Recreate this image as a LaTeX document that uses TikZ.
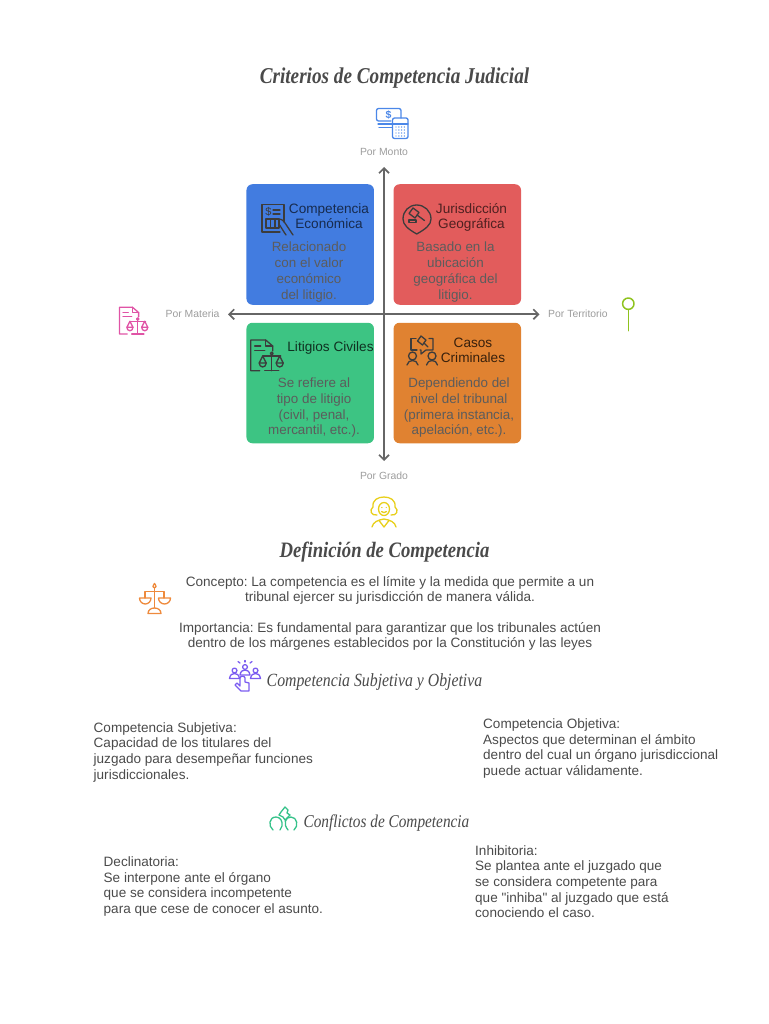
\documentclass[tikz,border=0pt]{standalone}
\usepackage{fontspec}
\setmainfont{Liberation Sans}
\newfontfamily\plainfont{Liberation Sans}
\newfontfamily\headfont[FakeStretch=0.85]{Liberation Serif}
\usetikzlibrary{arrows.meta}

\definecolor{cardblue}{HTML}{427CE0}
\definecolor{cardred}{HTML}{E25C5C}
\definecolor{cardgreen}{HTML}{3DC483}
\definecolor{cardorange}{HTML}{E08231}
\definecolor{axisgray}{HTML}{666666}
\definecolor{labelgray}{HTML}{9C9C9C}
\definecolor{textgray}{HTML}{4A4A4A}
\definecolor{bodygray}{HTML}{5C5C5C}
\definecolor{icondark}{HTML}{3C3C3C}
\definecolor{iconblue}{HTML}{4B87E8}
\definecolor{iconpink}{HTML}{E054A6}
\definecolor{iconlime}{HTML}{8FC31F}
\definecolor{iconyellow}{HTML}{E8CF1A}
\definecolor{iconorange}{HTML}{EE8A3C}
\definecolor{iconviolet}{HTML}{7B5CF0}
\definecolor{iconmint}{HTML}{36C28A}

\tikzset{
	cardbox/.style={draw=none, rounded corners=6pt, minimum width=127.5pt, minimum height=120.5pt, inner sep=0pt},
	cardtitle/.style={align=center, inner sep=0pt, font=\fontsize{13.6}{15}\selectfont},
	cardbody/.style={align=center, inner sep=0pt, text=bodygray, font=\fontsize{13.4}{15.7}\selectfont},
	axislabel/.style={inner sep=0pt, text=labelgray, font=\fontsize{10.4}{12}\selectfont},
	axisline/.style={axisgray, line width=1.7pt, {Straight Barb[length=5pt,width=10pt]}-{Straight Barb[length=5pt,width=10pt]}},
	headline/.style={inner sep=0pt, text=textgray, font=\headfont\itshape\fontsize{#1}{#1}\selectfont},
	bodytext/.style={inner sep=0pt, text=textgray, font=\fontsize{13.55}{15.7}\selectfont},
	iconline/.style={line width=1.3pt, line cap=round, line join=round},
	docscale/.pic={
		% Document with a fold
		\draw (9,30.7) -- (0,30.7) -- (0,0) -- (15,0) -- (22,6) -- (22,11);
		\draw (15,0) -- (15,6) -- (22,6);
		\draw (4,6) -- (10,6);
		\draw (4,10.5) -- (14,10.5);
		% Scale
		\draw (21,14.5) -- (21,30.7);
		\draw (14,30.7) -- (28,30.7);
		\draw (12,16) -- (30,16);
		\draw (21,13.5) circle (1.4);
		\draw (12,16) -- (8.5,23) -- (15.5,23) -- cycle;
		\draw (8.5,23) arc[start angle=180, end angle=0, x radius=3.5, y radius=4];
		\draw (29,16) -- (25.5,23) -- (32.5,23) -- cycle;
		\draw (25.5,23) arc[start angle=180, end angle=0, x radius=3.5, y radius=4];
	},
}

\begin{document}
\frenchspacing
\begin{tikzpicture}[x=1pt, y=-1pt]
	\useasboundingbox (0,0) rectangle (768,1024);

	% Main titles
	\node[headline=22.6] (maintitle) at (394.5,78.5) {\textbf{Criterios de Competencia Judicial}};
	\node[headline=22] (deftitle) at (384.5,552.5) {\textbf{Definición de Competencia}};
	\node[headline=18.6] (subtitle) at (374.5,682.5) {Competencia Subjetiva y Objetiva};
	\node[headline=18] (conftitle) at (386.5,823.5) {Conflictos de Competencia};

	% The four cards
	\node[cardbox, fill=cardblue] (ecocard) at (310.2,244.5) {};
	\node[cardbox, fill=cardred] (geocard) at (457.3,244.5) {};
	\node[cardbox, fill=cardgreen] (civcard) at (310.2,383) {};
	\node[cardbox, fill=cardorange] (crimcard) at (457.3,383) {};

	% Axes
	\coordinate (north) at (384,167);
	\coordinate (south) at (384,461);
	\coordinate (west) at (228,314.3);
	\coordinate (east) at (539.5,314.3);
	\draw[axisline] (north) -- (south);
	\draw[axisline] (west) -- (east);

	% Axis labels
	\node[axislabel] (monto) at (384,152) {Por Monto};
	\node[axislabel] (grado) at (384,476) {Por Grado};
	\node[axislabel] (materia) at (192.5,313.5) {Por Materia};
	\node[axislabel] (territorio) at (578,313.5) {Por Territorio};

	% Card texts
	\node[cardtitle, text=cardblue!35!black] (ecotitle) at (329,216) {Competencia\\Económica};
	\node[cardbody] (ecobody) at (309,272) {Relacionado\\con el valor\\económico\\del litigio.};
	\node[cardtitle, text=cardred!35!black] (geotitle) at (471.5,217) {Jurisdicción\\Geográfica};
	\node[cardbody] (geobody) at (455.5,272) {Basado en la\\ubicación\\geográfica del\\litigio.};
	\node[cardtitle, text=cardgreen!25!black] (civtitle) at (330.5,347.5) {Litigios Civiles};
	\node[cardbody] (civbody) at (314,407.7) {Se refiere al\\tipo de litigio\\(civil, penal,\\mercantil, etc.).};
	\node[cardtitle, text=cardorange!25!black] (crimtitle) at (473,350) {Casos\\Criminales};
	\node[cardbody] (crimbody) at (459,407.7) {Dependiendo del\\nivel del tribunal\\(primera instancia,\\apelación, etc.).};

	% Definition texts
	\node[bodytext, align=center] (concepto) at (390,590.5) {Concepto: La competencia es el límite y la medida que permite a un\\tribunal ejercer su jurisdicción de manera válida.};
	\node[bodytext, align=center] (importancia) at (390,636.5) {Importancia: Es fundamental para garantizar que los tribunales actúen\\dentro de los márgenes establecidos por la Constitución y las leyes};

	% Left aligned texts
	\node[bodytext, align=left, anchor=north west] (subjetiva) at (93.5,722) {Competencia Subjetiva:\\Capacidad de los titulares del\\juzgado para desempeñar funciones\\jurisdiccionales.};
	\node[bodytext, align=left, anchor=north west] (objetiva) at (483,718.5) {Competencia Objetiva:\\Aspectos que determinan el ámbito\\dentro del cual un órgano jurisdiccional\\puede actuar válidamente.};
	\node[bodytext, align=left, anchor=north west] (declinatoria) at (103.5,856.5) {Declinatoria:\\Se interpone ante el órgano\\que se considera incompetente\\para que cese de conocer el asunto.};
	\node[bodytext, align=left, anchor=north west] (inhibitoria) at (475,845) {Inhibitoria:\\Se plantea ante el juzgado que\\se considera competente para\\que {\plainfont"inhiba"} al juzgado que está\\conociendo el caso.};

	% Money and calculator icon
	\begin{scope}[iconline, draw=iconblue]
		\draw[rounded corners=2pt] (391,121) -- (376.5,121) -- (376.5,108.5) -- (401,108.5) -- (401,118);
		\draw (378,124) -- (392,124);
		\draw (379,127.5) -- (392,127.5);
		\node[inner sep=0pt, text=iconblue, font=\fontsize{10.5}{10.5}\selectfont\bfseries] (moneysign) at (388.5,114.5) {\$};
		\draw[rounded corners=2pt] (392.5,118) rectangle (408,138.5);
		\draw (392.5,124) -- (408,124);
		\foreach \dotx in {396,398.8,401.6,404.4}
			\foreach \doty in {127,130,133,136}
				\fill[iconblue] (\dotx,\doty) circle (0.7);
	\end{scope}

	% Pink document and scale icon
	\pic[iconline, draw=iconpink, scale=0.87] at (119.5,307.3) {docscale};

	% Lime pin
	\coordinate (pinfoot) at (628.3,330.7);
	\coordinate (pinhead) at (628.3,309.4);
	\draw[iconline, draw=iconlime, line width=1.5pt] (628.3,303.7) circle (5.7);
	\draw[iconline, draw=iconlime, line width=1.5pt] (pinhead) -- (pinfoot);

	% Hand and invoice icon
	\begin{scope}[iconline, draw=icondark]
		\draw (284,222) -- (284,204.5) -- (262,204.5) -- (262,232) -- (280,232);
		\node[inner sep=0pt, text=icondark, font=\fontsize{11}{11}\selectfont] (billsign) at (268.5,212) {\$};
		\draw (273,210) -- (280,210);
		\draw (273,214) -- (280,214);
		\draw (266,219) rectangle (279,228);
		\draw (270.5,219) -- (270.5,228);
		\draw (275,219) -- (275,228);
		\draw (279,219) .. controls (283,219) and (285,223) .. (287,226) -- (293,235);
		\draw (279,224) -- (284,232) -- (286,235);
	\end{scope}

	% Location pin with gavel
	\begin{scope}[iconline, draw=icondark]
		\draw (416.7,234) .. controls (408,229) and (403,225) .. (403,219) .. controls (403,211) and (409,205) .. (416.7,205) .. controls (424.5,205) and (431,211) .. (431,219) .. controls (431,225) and (425.5,229) .. (416.7,234) -- cycle;
		\draw (413,208) -- (419,212.5) -- (415,218) -- (409,213.5) -- cycle;
		\draw (417,215) -- (424.5,220.5);
		\draw (409,220) rectangle (416,222.5);
	\end{scope}

	% Document and scale in green card
	\pic[iconline, draw=icondark] at (250.7,340) {docscale};

	% Bubble with gavel and two people
	\begin{scope}[iconline, draw=icondark]
		\draw (416,338.5) -- (411,338.5) -- (411,350) -- (417,350);
		\draw (429,338.5) -- (433,338.5) -- (433,350) -- (426,350) -- (421,354) -- (421,350) -- (420,350);
		\draw (421,336) -- (426,340) -- (422.5,345) -- (417.5,341) -- cycle;
		\draw (424,343) -- (428,347);
		\draw (412.5,356) circle (4);
		\draw (407,365) .. controls (407.5,362) and (410,360.5) .. (412.5,360.5) .. controls (415,360.5) and (417.5,362) .. (418,365);
		\draw (432,356) circle (4);
		\draw (426.5,365) .. controls (427,362) and (429.5,360.5) .. (432,360.5) .. controls (434.5,360.5) and (437,362) .. (437.5,365);
	\end{scope}

	% Judge icon
	\begin{scope}[iconline, draw=iconyellow]
		\draw (384,509) ellipse (5.5 and 6.5);
		\draw (377,515) .. controls (371,516) and (369,510) .. (373,507) .. controls (372,500) and (378,497) .. (384,497) .. controls (390,497) and (396,500) .. (395,507) .. controls (399,510) and (397,516) .. (391,515);
		\draw (372,527) .. controls (373,522) and (378,520) .. (384,519) .. controls (390,520) and (395,522) .. (396,527);
		\draw (379,520.5) -- (384,527) -- (389,520.5);
		\draw (381.5,511.5) .. controls (383,513) and (385,513) .. (386.5,511.5);
		\fill[iconyellow] (381.8,507.5) circle (0.7);
		\fill[iconyellow] (386.2,507.5) circle (0.7);
	\end{scope}

	% Orange scale icon
	\begin{scope}[iconline, draw=iconorange]
		\draw (154.5,588) -- (154.5,608);
		\draw (154.5,583.5) .. controls (156.5,586) and (156.5,588) .. (154.5,588) .. controls (152.5,588) and (152.5,586) .. (154.5,583.5) -- cycle;
		\draw (145,591.7) -- (164,591.7);
		\draw (145,591.7) -- (145,598);
		\draw (164,591.7) -- (164,598);
		\draw (139.5,598) -- (151,598) arc[start angle=0, end angle=180, x radius=5.75, y radius=6];
		\draw (158.5,598) -- (170.5,598) arc[start angle=0, end angle=180, x radius=6, y radius=6];
		\draw (148,613.5) -- (161,613.5) .. controls (161,610) and (158,608) .. (154.5,608) .. controls (151,608) and (148,610) .. (148,613.5) -- cycle;
	\end{scope}

	% People and hand icon
	\begin{scope}[iconline, draw=iconviolet]
		\foreach \headx/\heady in {234.5/670.5, 245/667, 255.5/670.5} {
			\draw (\headx,\heady) circle (2.4);
			\draw (\headx-5,\heady+8) -- (\headx+5,\heady+8) .. controls (\headx+4.5,\heady+4) and (\headx+2,\heady+3) .. (\headx,\heady+3) .. controls (\headx-2,\heady+3) and (\headx-4.5,\heady+4) .. (\headx-5,\heady+8) -- cycle;
		}
		\draw (238,661.5) -- (240,663);
		\draw (245,660.5) -- (245,662);
		\draw (252,661.5) -- (250,663);
		\draw (240,678) -- (240,686) -- (237,683) -- (235,685) -- (241,691) -- (249,691) -- (249,683) -- (245,682) -- (245,678) .. controls (245,675.5) and (240,675.5) .. (240,678) -- cycle;
	\end{scope}

	% Conflict icon
	\begin{scope}[iconline, draw=iconmint]
		\draw (281,812) -- (285,807) -- (288,810) -- (287,813) -- (290,815) -- (285,820) -- (283,817) -- (279,815) -- cycle;
		\draw (273,830) .. controls (268,826) and (269,817) .. (276,817) .. controls (280,817) and (283,821) .. (282,826) -- (280,830);
		\draw (288,830) .. controls (283,824) and (285,817) .. (291,817) .. controls (297,817) and (299,826) .. (294,830);
	\end{scope}
\end{tikzpicture}
\end{document}
